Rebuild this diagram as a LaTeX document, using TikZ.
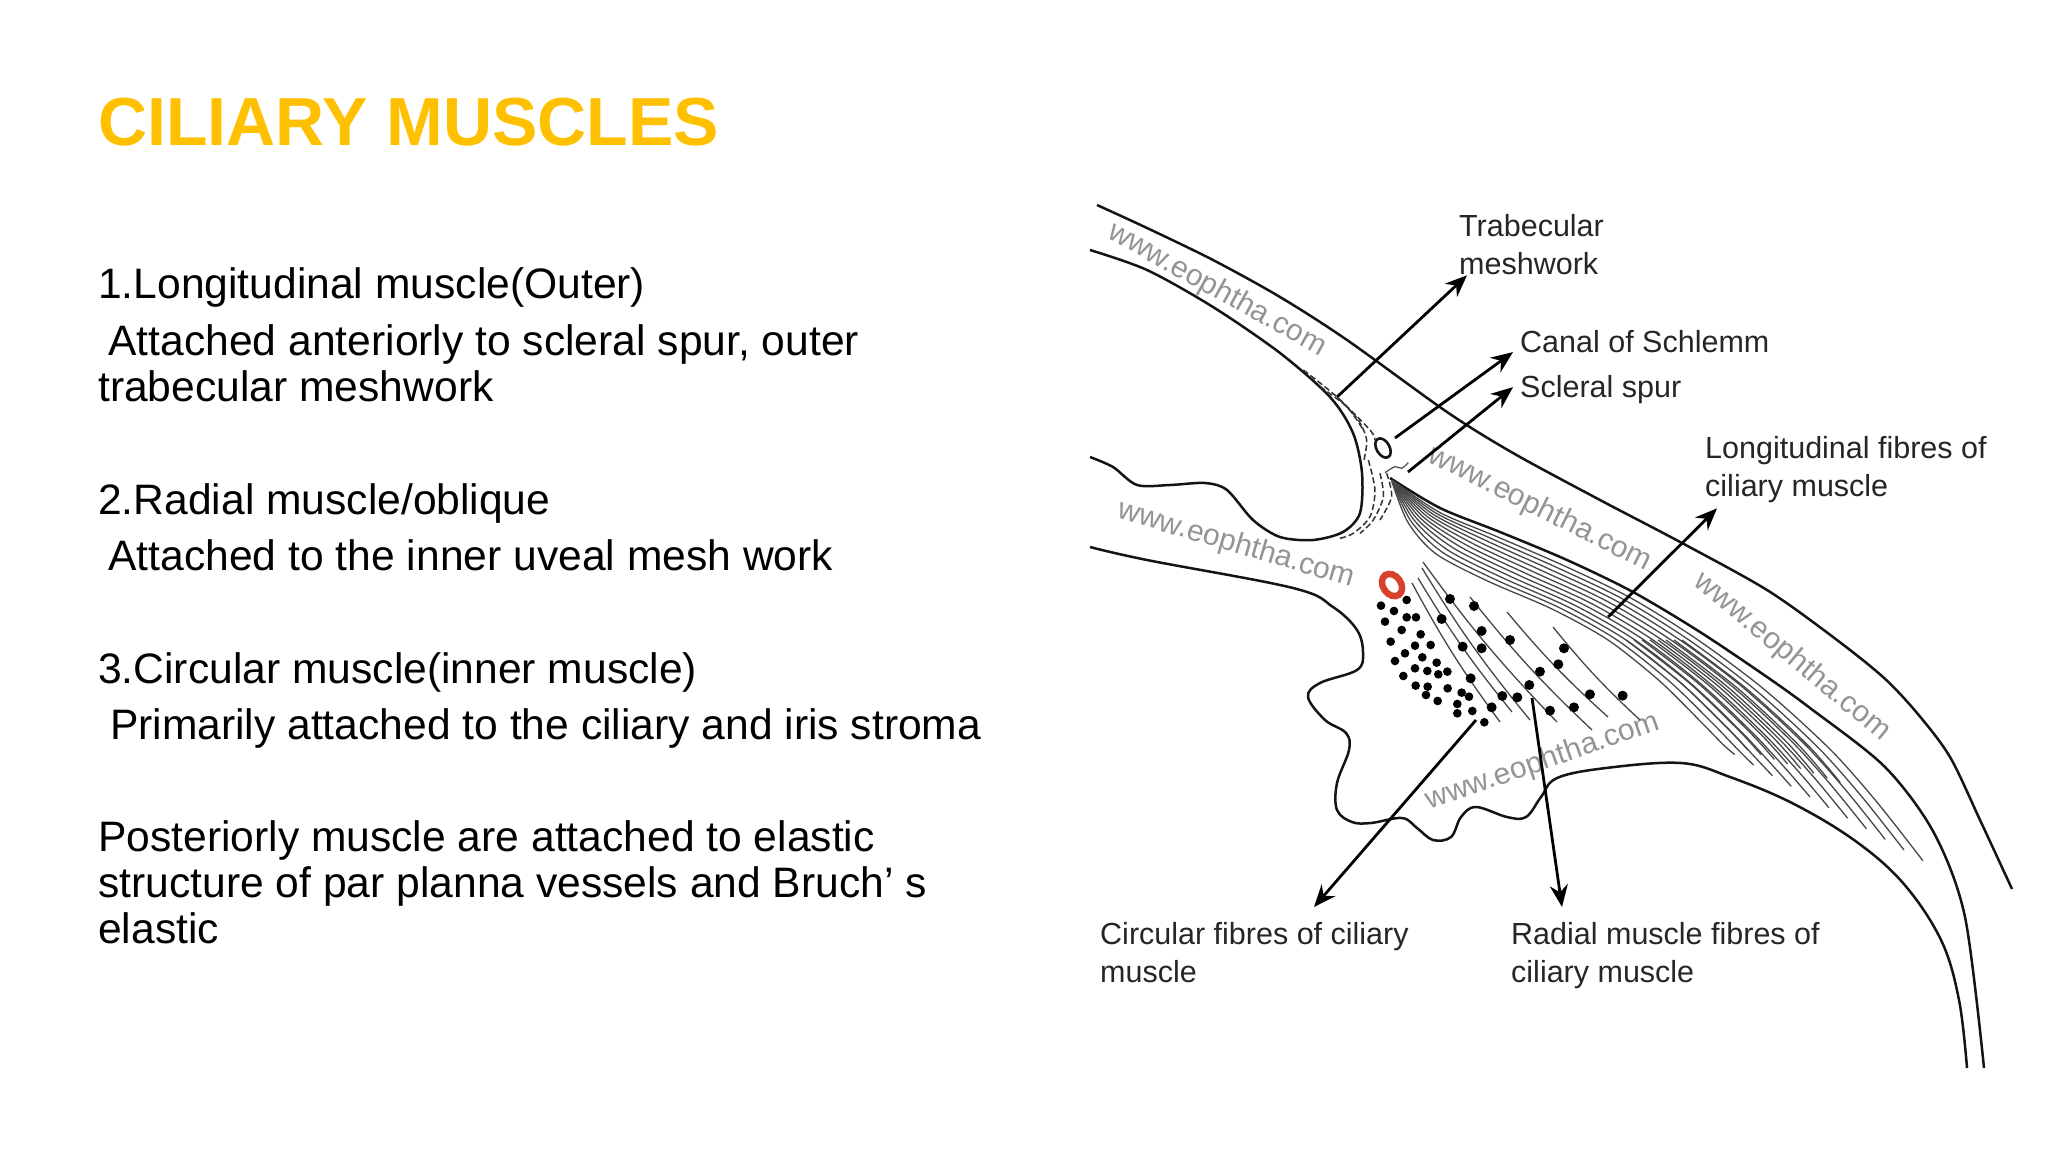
\documentclass[tikz,border=0pt]{standalone}
\usepackage{fontspec}
\setmainfont{Liberation Sans}
\usetikzlibrary{arrows.meta,calc}
\definecolor{titlegold}{HTML}{FFC000}
\definecolor{ringred}{HTML}{D8412B}
\tikzset{
	titletxt/.style={anchor=base west,inner sep=0pt,text=titlegold,font=\fontsize{68}{78}\selectfont\bfseries},
	bodytxt/.style={anchor=base west,inner sep=0pt,align=left,font=\fontsize{42.6}{45.8}\selectfont},
	labtxt/.style={anchor=north west,inner sep=0pt,align=left,text=black!85,font=\fontsize{30.5}{38.5}\selectfont},
	wmark/.style={inner sep=0pt,text=black!42,font=\fontsize{30}{34}\selectfont},
	wall/.style={line width=2.5pt,black!92},
	fibre/.style={line width=1.3pt,black!72},
	mesh/.style={line width=1.5pt,black!80,dash pattern=on 6pt off 3pt},
	pointer/.style={line width=2.8pt,->}
}
\begin{document}
\begin{tikzpicture}[x=1pt,y=-1pt,>={Stealth[length=22pt,width=18pt]}]
	\fill[white] (0,0) rectangle (2048,1152);
	\useasboundingbox (0,0) rectangle (2048,1152);
	\path
	(98,145.5) node[titletxt](title){CILIARY MUSCLES}
	(98,298) node[bodytxt](longhead){1.Longitudinal muscle(Outer)} % first block
	++(0,103) node[bodytxt](longtext){\hspace{-1.5pt}\ Attached anteriorly to scleral spur, outer\\trabecular meshwork}
	(98,514) node[bodytxt](radhead){2.Radial muscle/oblique} % second block
	++(0,56) node[bodytxt](radtext){\hspace{-1.5pt}\ Attached to the inner uveal mesh work}
	(98,683) node[bodytxt](circhead){3.Circular muscle(inner muscle)} % third block
	++(0,56) node[bodytxt](circtext){\ Primarily attached to the ciliary and iris stroma}
	(98,943.5) node[bodytxt](posttext){Posteriorly muscle are attached to elastic\\structure of par planna vessels and Bruch’ s\\elastic}
	;
	% watermarks
	\foreach \x/\y/\a [count=\i] in {1217/290/-29,1236/545/-16.4,1540/509/-26.6,1792/657/-39.7,1543/762/19.2}
		\node[wmark,rotate=\a] (wm\i) at (\x,\y) {www.eophtha.com};
	% walls
	\draw[wall] plot[smooth] coordinates {(1097,205) (1147,228) (1213,260) (1280,297) (1347,340) (1447,412) (1513,453) (1600,500) (1682,543) (1767,590) (1833,637) (1883,677) (1917,713) (1950,757) (1980,820) (2012,889)};
	\draw[wall] plot[smooth] coordinates {(1090,250) (1147,270) (1213,307) (1280,353) (1330,397) (1353,433) (1362,473) (1360,513) (1343,532) (1313,540) (1280,537) (1253,520) (1227,490) (1205,483) (1170,485) (1137,485) (1113,467) (1090,457)};
	\draw[wall] plot[smooth] coordinates {(1390,478) (1440,508) (1500,532) (1567,560) (1633,592) (1700,632) (1767,677) (1810,708) (1885,767) (1934,833) (1965,917) (1984,1068)};
	\draw[wall] plot[smooth,tension=.6] coordinates {(1090,547) (1147,560) (1293,588) (1333,607) (1357,630) (1363,653) (1357,670) (1320,683) (1308,697) (1325,720) (1346,733) (1349,750) (1337,783) (1337,810) (1352,822) (1371,823) (1402,818) (1417,828) (1433,840) (1451,837) (1461,817) (1476,807) (1507,817) (1526,817) (1541,797) (1557,778) (1606,768) (1681,763) (1730,777) (1792,803) (1854,840) (1903,883) (1941,940) (1959,1000) (1967,1068)};
	% longitudinal fan
	\foreach \t in {.02,.11,...,1.0}
		\draw[fibre] plot[smooth] coordinates {
			($(1392,480)!\t!(1392,482)$) ($(1440,512)!\t!(1405,523)$) ($(1500,537)!\t!(1430,555)$)
			($(1567,566)!\t!(1480,582)$) ($(1633,598)!\t!(1545,610)$) ($(1700,640)!\t!(1600,640)$)
			($(1767,690)!\t!(1650,680)$) ($(1833,750)!\t!(1690,720)$) ($(1880,803)!\t!(1710,740)$)
			($(1927,863)!\t!(1718,745)$)};
	% short fibres near the far end
	\foreach \t in {.18,.26,.34,.42,.5,.58,.66,.74}
		\draw[fibre] plot[smooth] coordinates {
			($(1700,640)!\t!(1600,640)$) ($(1767,690)!\t!(1650,680)$) ($(1833,750)!\t!(1690,720)$)
			($(1870,793)!\t!(1705,735)$)};
	% radial fibres
	\foreach \xa/\ya/\xb/\yb in {1412/583/1500/722,1418/578/1512/712,1422/568/1530/720,1423/562/1557/722,1470/597/1592/730,1507/612/1608/717,1553/627/1640/720}
		\draw[fibre] (\xa,\ya) to[bend right=4] (\xb,\yb);
	% meshwork, scleral spur
	\begin{scope}[shift={(1080,190)},x=.3333pt,y=-.3333pt]
		\draw[mesh] plot[smooth] coordinates {(670,540) (770,620) (870,720) (885,750)};
		\draw[mesh] plot[smooth] coordinates {(720,590) (800,650) (850,720)};
		\draw[mesh] plot[smooth] coordinates {(780,630) (835,690) (860,750) (852,810)};
		\draw[mesh] plot[smooth] coordinates {(865,810) (885,900) (870,980) (820,1030) (780,1045)};
		\draw[mesh] plot[smooth] coordinates {(900,850) (910,920) (880,990) (840,1030)};
		\draw[mesh] plot[smooth] coordinates {(920,850) (935,920) (900,990)};
		\draw[line width=1.2pt,black!70] plot[smooth] coordinates {(915,848) (945,830) (965,835) (985,818)};
	\end{scope}
	% canal and ring
	\draw[line width=2.6pt,black!92,rotate around={30:(1383,448)}] (1383,448) ellipse[x radius=6.5,y radius=10.5];
	\draw[line width=6.5pt,ringred,rotate around={35:(1392,585)}] (1392,585) ellipse[x radius=9,y radius=12];
	% dots
	\begin{scope}[shift={(1300,420)},x=.3333pt,y=-.3333pt]
		\foreach \x/\y in {450/537,522/558,425/597,545/633,630/660,488/680,545/685,792/685,775/733,720/755,512/775,688/795,870/823,968/827,607/828,652/832,822/862,575/862,750/872}
			\fill[black] (\x,\y) circle[radius=15];
		\foreach \x/\y in {243/557,282/573,320/540,255/605,320/592,348/592,305/630,362/643,272/665,345/677,392/675,315/700,285/723,367/712,410/728,345/745,382/753,415/763,442/755,310/768,347/797,383/800,443/805,378/825,485/818,507/830,413/843,472/852,517/873,472/880,553/907}
			\fill[black] (\x,\y) circle[radius=13];
	\end{scope}
	% labels
	\node[labtxt] (trablab) at (1459,214) {Trabecular\\meshwork};
	\node[labtxt,anchor=base west] (canlab) at (1520,352) {Canal of Schlemm};
	\node[labtxt,anchor=base west] (scllab) at (1520,397) {Scleral spur};
	\node[labtxt] (longlab) at (1705,436) {Longitudinal fibres of\\ciliary muscle};
	\node[labtxt] (circlab) at (1100,922) {Circular fibres of ciliary\\muscle};
	\node[labtxt] (radlab) at (1511,922) {Radial muscle fibres of\\ciliary muscle};
	% arrows
	\coordinate (trabfrom) at (1337,397);
	\coordinate (canfrom) at (1395,438);
	\coordinate (sclfrom) at (1408,472);
	\coordinate (longfrom) at (1608,617);
	\coordinate (circfrom) at (1476,720);
	\coordinate (radfrom) at (1532,698);
	\draw[pointer] (trabfrom)--([xshift=8pt]trablab.south west);
	\draw[pointer] (canfrom)--([xshift=-7pt,yshift=-11pt]canlab.west);
	\draw[pointer] (sclfrom)--([xshift=-7pt,yshift=2pt]scllab.west);
	\draw[pointer] (longfrom)--([xshift=12pt,yshift=-5pt]longlab.south west);
	\draw[pointer] (circfrom)--([xshift=214pt,yshift=15pt]circlab.north west);
	\draw[pointer] (radfrom)--([xshift=51pt,yshift=15pt]radlab.north west);
\end{tikzpicture}
\end{document}
